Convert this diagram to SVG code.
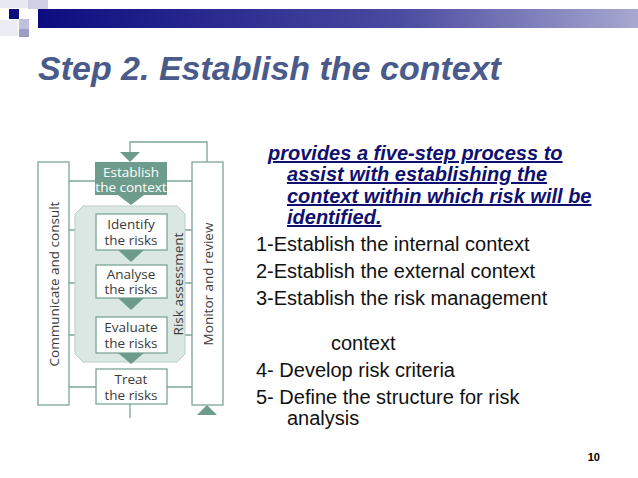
<svg xmlns="http://www.w3.org/2000/svg" width="638" height="478" viewBox="0 0 638 478">
<defs>
<linearGradient id="bar" x1="0" x2="1"><stop offset="0" stop-color="#0c0c80"/><stop offset="0.6" stop-color="#4a4aa0"/><stop offset="1" stop-color="#a8a8d0"/></linearGradient>
<style>
.t{font-family:"Liberation Sans",Arial,sans-serif}
.bx{fill:#fff;stroke:#7fa597;stroke-width:1.3}
.ln{stroke:#7fa597;stroke-width:1.3;fill:none}
.tri{fill:#6e9c8c}
.bt{font-family:"Open Sans","DejaVu Sans",sans-serif;font-size:13.5px;fill:#3a3a3a;text-anchor:middle}
.body{font-family:"Liberation Sans",Arial,sans-serif;font-size:20px;fill:#111}
.u{font-family:"Liberation Sans",Arial,sans-serif;font-size:20px;fill:#101070;font-weight:bold;font-style:italic;text-decoration:underline}
</style>
</defs>
<rect width="638" height="478" fill="#fff"/>
<g id="header">
<rect x="38" y="9" width="600" height="19" fill="url(#bar)"/>
<rect x="0" y="0" width="48" height="8" fill="#e8e8f2"/>
<rect x="28" y="0" width="20" height="9" fill="#d0d0e4"/>
<rect x="9" y="9" width="10" height="10" fill="#0c0c80"/>
<rect x="0" y="20" width="18" height="16" fill="#ececf4"/>
<rect x="19" y="19" width="10" height="10" fill="#c0c0dc"/>
<rect x="19" y="29" width="10" height="8" fill="#9c9cc4"/>
</g>
<text class="t" x="38" y="80" font-size="34" font-weight="bold" font-style="italic" fill="#4a5a8a">Step 2. Establish the context</text>

<g id="connectors">
<path class="ln" d="M130 152 V142 H207 V162"/>
<path class="ln" d="M69 181 H95 M167 181 H192 M69 230 H96 M167 230 H192 M69 283 H96 M167 283 H192 M69 335 H96 M167 335 H192 M69 387 H96 M167 387 H192"/>
<path class="ln" d="M130 404 V418"/>
<polygon class="tri" points="120,152 140,152 130,162"/>
<polygon class="tri" points="197,415 217,415 207,405"/>
</g>
<g id="risk-assessment">
<polygon points="83,206 177,206 185,214 185,354 177,362 83,362 75,354 75,214" fill="#dbe7e2" stroke="#b8cfc6"/>
<text class="bt" transform="translate(178,284) rotate(-90)" dy="5">Risk assessment</text>
</g>
<g id="communicate"><rect class="bx" x="38" y="162" width="31" height="243"/>
<text class="bt" transform="translate(54,284) rotate(-90)" dy="5">Communicate and consult</text></g>
<g id="monitor"><rect class="bx" x="192" y="162" width="31" height="243"/>
<text class="bt" transform="translate(208,284) rotate(-90)" dy="5">Monitor and review</text></g>
<g id="establish"><rect x="95" y="162" width="72" height="33" fill="#6e9c8c"/>
<text class="bt" x="131" y="177" style="fill:#fff">Establish</text><text class="bt" x="131" y="192" style="fill:#fff">the context</text>
<polygon class="tri" points="118,195 144,195 131,205"/></g>
<g id="identify"><rect class="bx" x="96" y="214" width="71" height="36"/>
<text class="bt" x="131" y="229">Identify</text><text class="bt" x="131" y="245">the risks</text>
<polygon class="tri" points="118,250 144,250 131,262"/></g>
<g id="analyse"><rect class="bx" x="96" y="265" width="71" height="33"/>
<text class="bt" x="131" y="279">Analyse</text><text class="bt" x="131" y="294">the risks</text>
<polygon class="tri" points="118,298 144,298 131,310"/></g>
<g id="evaluate"><rect class="bx" x="96" y="317" width="71" height="36"/>
<text class="bt" x="131" y="332">Evaluate</text><text class="bt" x="131" y="348">the risks</text>
<polygon class="tri" points="118,353 144,353 131,364"/></g>
<g id="treat"><rect class="bx" x="96" y="369" width="71" height="35"/>
<text class="bt" x="131" y="384">Treat</text><text class="bt" x="131" y="400">the risks</text></g>

<g id="text">
<text class="u" x="268" y="160">provides a five-step process to</text>
<text class="u" x="287" y="181">assist with establishing the</text>
<text class="u" x="287" y="203">context within which risk will be</text>
<text class="u" x="287" y="224">identified.</text>
<text class="body" x="256" y="251">1-Establish the internal context</text>
<text class="body" x="256" y="278">2-Establish the external context</text>
<text class="body" x="256" y="305">3-Establish the risk management</text>
<text class="body" x="331" y="350">context</text>
<text class="body" x="256" y="377">4- Develop risk criteria</text>
<text class="body" x="256" y="404">5- Define the structure for risk</text>
<text class="body" x="287" y="425">analysis</text>
<text class="t" x="600" y="461" font-size="11" font-weight="bold" text-anchor="end">10</text>
</g>
</svg>
